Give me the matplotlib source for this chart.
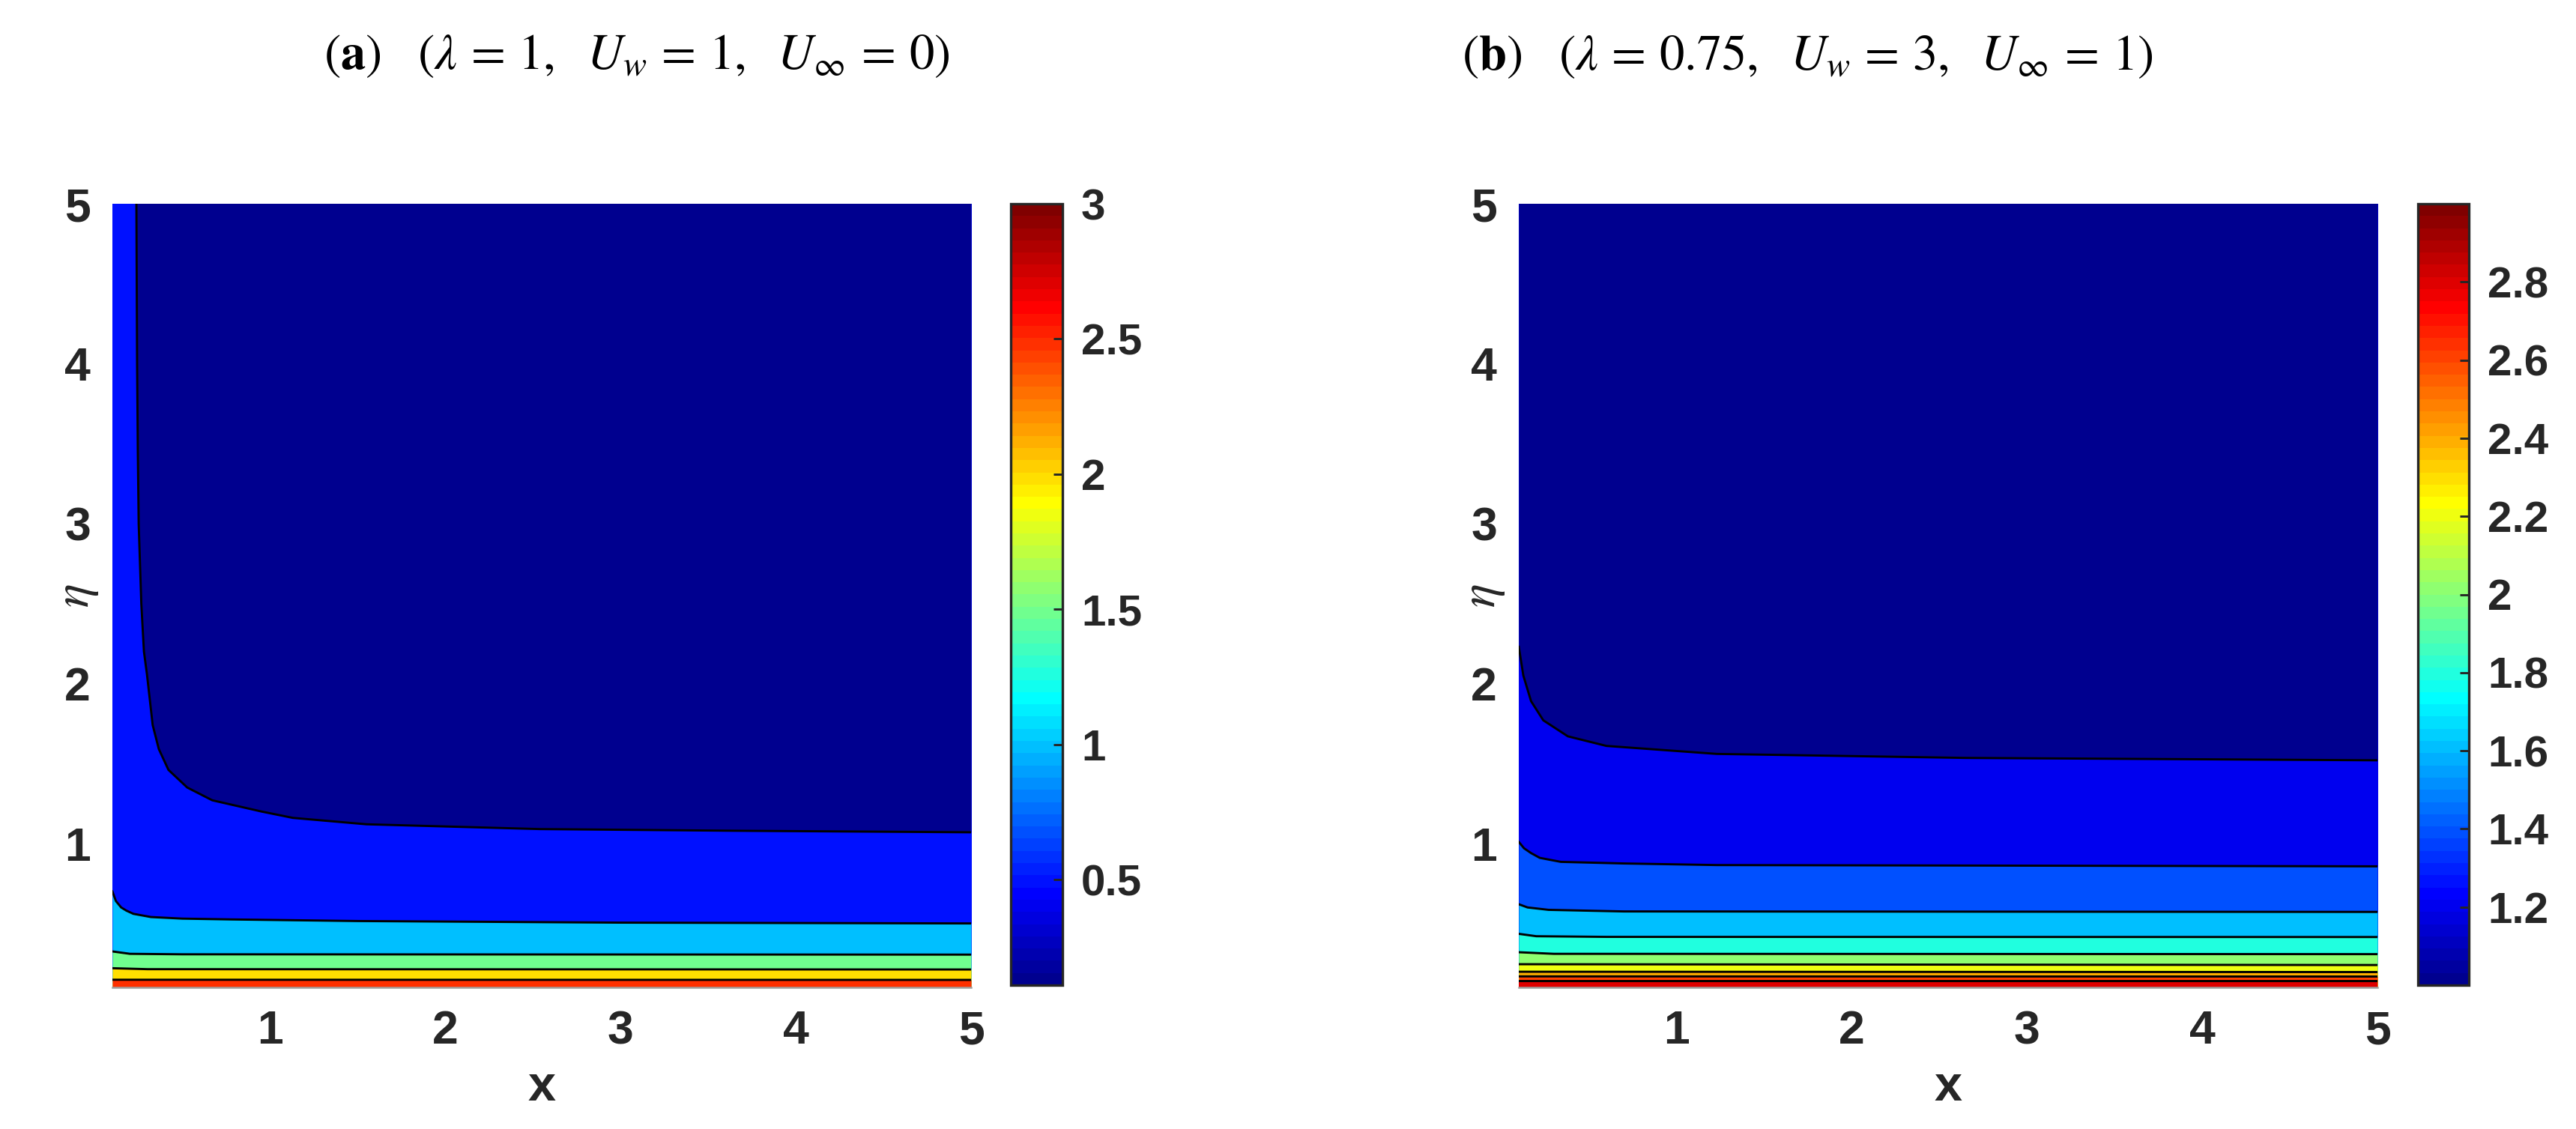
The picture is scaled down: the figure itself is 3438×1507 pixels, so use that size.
import numpy as np
import matplotlib
matplotlib.use("Agg")
import matplotlib.pyplot as plt
from matplotlib.colors import LinearSegmentedColormap, Normalize
from matplotlib.cm import ScalarMappable

# ── Data ────────────────────────────────────────────────────────────────
# contour positions (x, eta) for each level, panel (a)
levels_a = [0.5, 1.0, 1.5, 2.0, 2.5]
a_x_05 = [0.237, 0.241, 0.245, 0.25, 0.265, 0.28, 0.297, 0.33, 0.365, 0.42, 0.527, 0.67, 0.95, 1.13, 1.55, 2.54, 3.6, 5.0]
a_eta_05 = [5.0, 4.0, 3.46, 3.0, 2.5, 2.2, 2.06, 1.74, 1.59, 1.46, 1.35, 1.27, 1.20, 1.16, 1.12, 1.09, 1.08, 1.07]
a_x_10 = [0.1, 0.12, 0.15, 0.18, 0.22, 0.32, 0.5, 0.78, 1.5, 3.0, 5.0]
a_eta_10 = [0.70, 0.64, 0.60, 0.58, 0.56, 0.54, 0.53, 0.525, 0.515, 0.505, 0.50]
a_x_15 = [0.1, 0.2, 0.5, 5.0]
a_eta_15 = [0.325, 0.31, 0.307, 0.305]
a_x_20 = [0.1, 0.3, 5.0]
a_eta_20 = [0.22, 0.214, 0.212]
a_x_25 = [0.1, 5.0]
a_eta_25 = [0.148, 0.147]
clim_a = (0.11, 3.0)
cticks_a = [0.5, 1, 1.5, 2, 2.5, 3]
clabels_a = ["0.5", "1", "1.5", "2", "2.5", "3"]

# panel (b)
levels_b = [1.2, 1.4, 1.6, 1.8, 2.0, 2.2, 2.4, 2.6, 2.8]
b_x_12 = [0.1, 0.126, 0.17, 0.24, 0.38, 0.60, 1.23, 2.65, 5.0]
b_eta_12 = [2.23, 2.05, 1.89, 1.77, 1.67, 1.61, 1.56, 1.535, 1.52]
b_x_14 = [0.1, 0.13, 0.17, 0.22, 0.34, 0.7, 1.23, 5.0]
b_eta_14 = [1.01, 0.97, 0.94, 0.91, 0.885, 0.875, 0.865, 0.857]
b_x_16 = [0.1, 0.15, 0.27, 0.7, 5.0]
b_eta_16 = [0.62, 0.60, 0.585, 0.575, 0.572]
b_x_18 = [0.1, 0.2, 0.6, 5.0]
b_eta_18 = [0.435, 0.42, 0.416, 0.415]
b_x_20 = [0.1, 0.3, 5.0]
b_eta_20 = [0.32, 0.31, 0.308]
b_x_22 = [0.1, 5.0]
b_eta_22 = [0.245, 0.24]
b_x_24 = [0.1, 5.0]
b_eta_24 = [0.198, 0.196]
b_x_26 = [0.1, 5.0]
b_eta_26 = [0.169, 0.168]
b_x_28 = [0.1, 5.0]
b_eta_28 = [0.142, 0.142]
clim_b = (1.0, 3.0)
cticks_b = [1.2, 1.4, 1.6, 1.8, 2.0, 2.2, 2.4, 2.6, 2.8]
clabels_b = ["1.2", "1.4", "1.6", "1.8", "2", "2.2", "2.4", "2.6", "2.8"]

ticks_xy = [1, 2, 3, 4, 5]
XLIM = (0.1, 5.0)
YLIM = (0.1, 5.0)
PAD = 0.3  # fills run past the limits, the axes clip them

title_a = r"$(\mathbf{a})\ \ \ (\lambda\,=\,1,\ \ U_w\,=\,1,\ \ U_\infty\,=\,0)$"
title_b = r"$(\mathbf{b})\ \ \ (\lambda\,=\,0.75,\ \ U_w\,=\,3,\ \ U_\infty\,=\,1)$"

# MATLAB-style jet with 64 entries
jet64 = LinearSegmentedColormap.from_list(
    "jet64",
    [(0.0, (0, 0, 0.5625)), (7 / 63, (0, 0, 1)), (23 / 63, (0, 1, 1)),
     (39 / 63, (1, 1, 0)), (55 / 63, (1, 0, 0)), (1.0, (0.5, 0, 0))],
    N=64,
)

TXT = "#262626"
plt.rcParams["font.family"] = ["Liberation Sans", "DejaVu Sans"]
plt.rcParams["mathtext.fontset"] = "stix"

fig = plt.figure(figsize=(3438 / 300, 1507 / 300), dpi=300)


def draw_panel(ax_rect, cax_rect, levels, curves, clim, cticks, clabels):
    ax = fig.add_axes(ax_rect)
    norm = Normalize(*clim)
    ax.set_facecolor("none")

    # band between first and second contour -> first level colour
    ax.fill_between([XLIM[0] - PAD, XLIM[1] + PAD], YLIM[0] - PAD, YLIM[1] + PAD,
                    color=jet64(norm(levels[0])), lw=0)
    x0, e0 = curves[0]
    ax.fill_between(x0, e0, YLIM[1] + PAD, color=jet64(norm(clim[0])), lw=0)
    for lev, (xs, es) in zip(levels[1:], curves[1:]):
        ax.fill_between(xs, YLIM[0] - PAD, es, color=jet64(norm(lev)), lw=0)
    for xs, es in curves:
        ax.plot(xs, es, color="black", lw=0.7)
    ax.set_xlim(*XLIM)
    ax.set_ylim(*YLIM)

    ax.set_xticks(ticks_xy)
    ax.set_yticks(ticks_xy)
    ax.tick_params(length=0, labelsize=15, labelcolor=TXT, pad=7)
    for lab in ax.get_xticklabels() + ax.get_yticklabels():
        lab.set_fontweight("bold")
    for side in ["top", "right", "left"]:
        ax.spines[side].set_visible(False)
    ax.spines["bottom"].set_color("#a0a0a0")
    ax.spines["bottom"].set_linewidth(0.6)

    ax.set_xlabel("x", fontsize=16, fontweight="bold", color=TXT)
    ax.xaxis.set_label_coords(0.5, -0.128)
    ax.xaxis.label.set_verticalalignment("center")
    ax.set_ylabel(r"$\eta$", fontsize=16, color=TXT)
    ax.yaxis.set_label_coords(-0.041, 0.5)
    ax.yaxis.label.set_verticalalignment("center")

    cax = fig.add_axes(cax_rect)
    cb = fig.colorbar(ScalarMappable(norm=norm, cmap=jet64), cax=cax, ticks=cticks)
    cb.ax.set_yticklabels(clabels)
    cb.ax.tick_params(direction="in", length=3, width=0.7, color=TXT,
                      labelsize=14, labelcolor=TXT, pad=6)
    for lab in cb.ax.get_yticklabels():
        lab.set_fontweight("bold")
    cb.outline.set_edgecolor(TXT)
    cb.outline.set_linewidth(0.8)
    return ax


curves_a = [(a_x_05, a_eta_05), (a_x_10, a_eta_10), (a_x_15, a_eta_15),
            (a_x_20, a_eta_20), (a_x_25, a_eta_25)]
curves_b = [(b_x_12, b_eta_12), (b_x_14, b_eta_14), (b_x_16, b_eta_16),
            (b_x_18, b_eta_18), (b_x_20, b_eta_20), (b_x_22, b_eta_22),
            (b_x_24, b_eta_24), (b_x_26, b_eta_26), (b_x_28, b_eta_28)]

draw_panel([150 / 3438, 189 / 1507, 1146 / 3438, 1046 / 1507],
           [1349 / 3438, 192 / 1507, 69 / 3438, 1043 / 1507],
           levels_a, curves_a, clim_a, cticks_a, clabels_a)
draw_panel([2027 / 3438, 189 / 1507, 1146 / 3438, 1046 / 1507],
           [3227 / 3438, 192 / 1507, 68 / 3438, 1043 / 1507],
           levels_b, curves_b, clim_b, cticks_b, clabels_b)

fig.text(850 / 3438, 0.950, title_a, ha="center", va="center", fontsize=16, color="black")
fig.text(2412 / 3438, 0.950, title_b, ha="center", va="center", fontsize=16, color="black")

fig.savefig("out.png", dpi=300)
